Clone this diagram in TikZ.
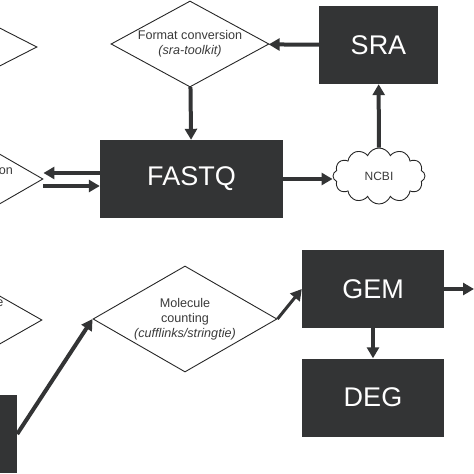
\documentclass[tikz,border=0pt]{standalone}
\usepackage{fontspec}
\setmainfont{Liberation Sans}
\usetikzlibrary{shapes.geometric, shapes.symbols, arrows.meta}
\definecolor{boxgray}{HTML}{333435}
\definecolor{txtgray}{HTML}{3A3A3A}
\tikzstyle{datafile} = [rectangle, minimum width=142pt, minimum height=78pt, text centered, fill=boxgray, text=white, font=\fontsize{27}{31}\selectfont]
\tikzstyle{tool} = [diamond, draw=black!85, line width=0.9pt, inner sep=0pt, align=center, text=txtgray, font=\fontsize{12.6}{15}\selectfont]
\tikzstyle{tooltext} = [inner sep=0pt, text=txtgray, font=\fontsize{12.6}{15}\selectfont]
\tikzstyle{repo} = [cloud, cloud puffs=12, cloud puff arc=135, draw=black!85, line width=0.9pt, minimum width=92pt, minimum height=56pt, inner sep=0pt, text=txtgray, font=\fontsize{12}{14}\selectfont]
\tikzstyle{arrow} = [draw=boxgray, line width=4pt, -{Triangle[length=11pt, width=12pt]}]
\begin{document}
\begin{tikzpicture}[x=1pt, y=-1pt]
    \useasboundingbox (0,0) rectangle (474,474);
    \clip (0,0) rectangle (474,474);

    \node [datafile, minimum width=119pt]							(sra)		at (378.5,45)	{SRA};
    \node [datafile, minimum width=183pt]							(fastq)		at (191.5,179)	{FASTQ};
    \node [datafile]												(gem)		at (373,289)	{GEM};
    \node [datafile]												(deg)		at (373,397.5)	{DEG};
    \node [datafile, minimum width=130pt]							(bam)		at (-48,434)	{};
    \node [repo]													(ncbi)		at (379,176)	{NCBI};
    \node [tool, minimum width=158pt, minimum height=86pt, aspect=1.84]	(convert)	at (190,44)		{Format conversion\\\textit{(sra-toolkit)}};
    \node [tool, minimum width=184pt, minimum height=106pt, aspect=1.74]	(count)		at (185,319)	{Molecule\\counting\\\textit{(cufflinks/stringtie)}};
    \node [tool, minimum width=168pt, minimum height=86pt]			(left)		at (-47,47)		{};
    \node [tool, minimum width=156pt, minimum height=90pt]			(qc)		at (-35,179)	{};
    \node [tool, minimum width=186pt, minimum height=106pt]			(align)		at (-51,320)	{};
    \node [tooltext, anchor=east]									(qctext)	at (13,171)		{on};
    \node [tooltext, anchor=east]									(aligntext)	at (3.5,303)	{e};
    \coordinate (next) at (474,289);

    \draw [arrow] (sra) -- (convert);
    \draw [arrow] (convert) -- (fastq);
    \draw [arrow] ([yshift=6pt]fastq.west) -- ([yshift=6pt]qc.east);
    \draw [arrow] ([yshift=-7pt]qc.east) -- ([yshift=-7pt]fastq.west);
    \draw [arrow] (fastq.east) -- (fastq.east -| ncbi.west);
    \draw [arrow] (ncbi) -- (sra);
    \draw [arrow] (bam.east) -- (count.west);
    \draw [arrow, line width=3pt] (count.east) -- (gem.west);
    \draw [arrow] (gem) -- (deg);
    \draw [arrow] (gem) -- (next);
\end{tikzpicture}
\end{document}
